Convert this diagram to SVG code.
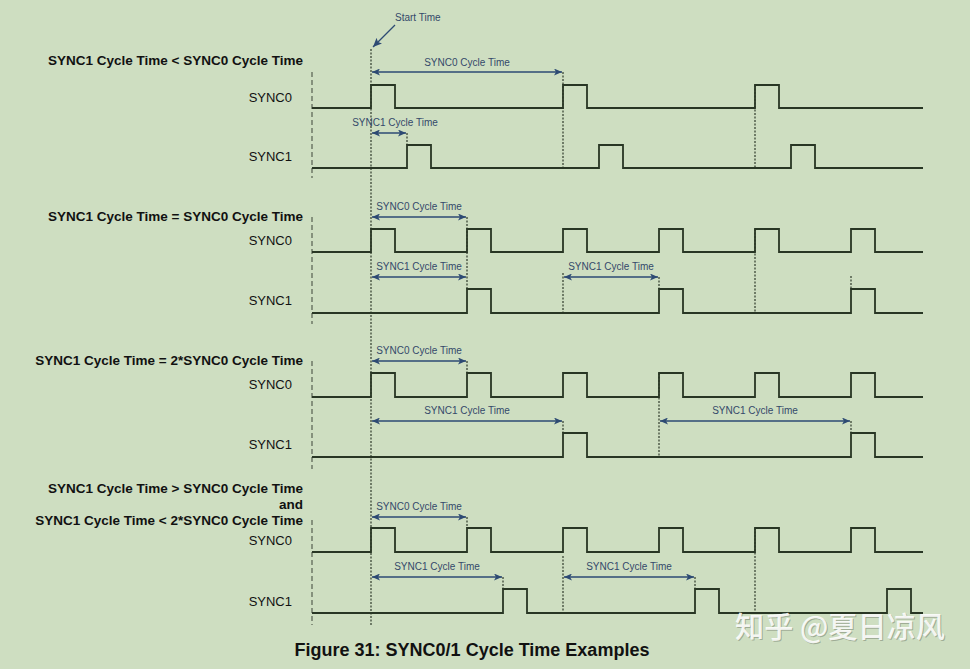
<svg xmlns="http://www.w3.org/2000/svg" width="970" height="669" viewBox="0 0 970 669">
<style>
.bg{fill:#CEDEC1}
.wave{fill:none;stroke:#283624;stroke-width:1.8;stroke-linejoin:miter}
.dot{stroke:#2F3A2C;stroke-width:1.2;stroke-dasharray:2 1.5;fill:none}
.dash{stroke:#4A5346;stroke-width:1.1;stroke-dasharray:5 3;fill:none}
.dim{stroke:#2D4A73;stroke-width:1.3;fill:none;marker-start:url(#ah);marker-end:url(#ah)}
.head{font-family:"Liberation Sans",Arial,sans-serif;font-weight:bold;font-size:13.5px;fill:#111;text-anchor:end}
.sig{font-family:"Liberation Sans",Arial,sans-serif;font-size:13px;fill:#111;text-anchor:end}
.ct{font-family:"Liberation Sans",Arial,sans-serif;font-size:10px;fill:#34496A;text-anchor:middle}
.cap{font-family:"Liberation Sans",Arial,sans-serif;font-weight:bold;font-size:18px;fill:#111;text-anchor:middle}
.wm{font-family:"Noto Sans CJK SC","Liberation Sans",sans-serif;font-size:29px;font-weight:500}
</style>
<defs>
<marker id="ah" markerUnits="userSpaceOnUse" markerWidth="9" markerHeight="7" refX="8" refY="3.5" orient="auto-start-reverse">
<path d="M0,0 L8,3.5 L0,7 L2,3.5 z" fill="#2D4A73"/>
</marker>
<marker id="ah2" markerUnits="userSpaceOnUse" markerWidth="10" markerHeight="8" refX="9" refY="4" orient="auto">
<path d="M0,0 L9,4 L0,8 L2,4 z" fill="#2D4A73"/>
</marker>
</defs>
<rect class="bg" x="0" y="0" width="970" height="669"/>

<g id="start-time">
<text x="395" y="21" style="font-family:'Liberation Sans',Arial,sans-serif;font-size:10px;fill:#34496A">Start Time</text>
<line x1="395" y1="25" x2="373" y2="47" stroke="#2D4A73" stroke-width="1.3" marker-end="url(#ah2)"/>
</g>

<g id="connectors">
<line class="dot" x1="371" y1="49" x2="371" y2="625"/>
<!-- panel 1 -->
<line class="dash" x1="312" y1="72" x2="312" y2="178"/>
<line class="dot" x1="563" y1="72" x2="563" y2="168"/>
<line class="dot" x1="755" y1="85" x2="755" y2="168"/>
<line class="dot" x1="407" y1="133" x2="407" y2="145"/>
<line class="dim" x1="372" y1="72" x2="562" y2="72"/>
<line class="dim" x1="372" y1="133" x2="406" y2="133"/>
<!-- panel 2 -->
<line class="dash" x1="312" y1="217" x2="312" y2="324"/>
<line class="dot" x1="467" y1="217" x2="467" y2="289"/>
<line class="dot" x1="563" y1="273" x2="563" y2="313"/>
<line class="dot" x1="659" y1="277" x2="659" y2="289"/>
<line class="dot" x1="755" y1="229" x2="755" y2="313"/>
<line class="dot" x1="851" y1="276" x2="851" y2="289"/>
<line class="dim" x1="372" y1="217" x2="466" y2="217"/>
<line class="dim" x1="372" y1="277" x2="466" y2="277"/>
<line class="dim" x1="564" y1="277" x2="658" y2="277"/>
<!-- panel 3 -->
<line class="dash" x1="312" y1="361" x2="312" y2="469"/>
<line class="dot" x1="467" y1="361" x2="467" y2="373"/>
<line class="dot" x1="563" y1="421" x2="563" y2="433"/>
<line class="dot" x1="659" y1="373" x2="659" y2="457"/>
<line class="dot" x1="851" y1="421" x2="851" y2="433"/>
<line class="dim" x1="372" y1="361" x2="466" y2="361"/>
<line class="dim" x1="372" y1="421" x2="562" y2="421"/>
<line class="dim" x1="660" y1="421" x2="850" y2="421"/>
<!-- panel 4 -->
<line class="dash" x1="312" y1="520" x2="312" y2="625"/>
<line class="dot" x1="467" y1="517" x2="467" y2="528"/>
<line class="dot" x1="503" y1="577" x2="503" y2="589"/>
<line class="dot" x1="563" y1="556" x2="563" y2="613"/>
<line class="dot" x1="695" y1="577" x2="695" y2="589"/>
<line class="dot" x1="755" y1="528" x2="755" y2="613"/>
<line class="dim" x1="372" y1="517" x2="466" y2="517"/>
<line class="dim" x1="372" y1="577" x2="502" y2="577"/>
<line class="dim" x1="564" y1="577" x2="694" y2="577"/>
</g>

<g id="panel1">
<text class="head" x="303" y="65">SYNC1 Cycle Time &lt; SYNC0 Cycle Time</text>
<text class="sig" x="292" y="102">SYNC0</text>
<text class="sig" x="292" y="161">SYNC1</text>
<path class="wave" d="M312,108 H371 V85 H395 V108 H563 V85 H587 V108 H755 V85 H779 V108 H923"/>
<path class="wave" d="M312,168 H407 V145 H431 V168 H599 V145 H623 V168 H791 V145 H815 V168 H923"/>
<text class="ct" x="467" y="66">SYNC0 Cycle Time</text>
<text class="ct" x="395" y="126">SYNC1 Cycle Time</text>
</g>

<g id="panel2">
<text class="head" x="303" y="221">SYNC1 Cycle Time = SYNC0 Cycle Time</text>
<text class="sig" x="292" y="245">SYNC0</text>
<text class="sig" x="292" y="305">SYNC1</text>
<path class="wave" d="M312,252 H371 V229 H395 V252 H467 V229 H491 V252 H563 V229 H587 V252 H659 V229 H683 V252 H755 V229 H779 V252 H851 V229 H875 V252 H923"/>
<path class="wave" d="M312,313 H467 V289 H491 V313 H659 V289 H683 V313 H851 V289 H875 V313 H923"/>
<text class="ct" x="419" y="210">SYNC0 Cycle Time</text>
<text class="ct" x="419" y="270">SYNC1 Cycle Time</text>
<text class="ct" x="611" y="270">SYNC1 Cycle Time</text>
</g>

<g id="panel3">
<text class="head" x="303" y="365">SYNC1 Cycle Time = 2*SYNC0 Cycle Time</text>
<text class="sig" x="292" y="389">SYNC0</text>
<text class="sig" x="292" y="449">SYNC1</text>
<path class="wave" d="M312,397 H371 V373 H395 V397 H467 V373 H491 V397 H563 V373 H587 V397 H659 V373 H683 V397 H755 V373 H779 V397 H851 V373 H875 V397 H923"/>
<path class="wave" d="M312,457 H563 V433 H587 V457 H851 V433 H875 V457 H923"/>
<text class="ct" x="419" y="354">SYNC0 Cycle Time</text>
<text class="ct" x="467" y="414">SYNC1 Cycle Time</text>
<text class="ct" x="755" y="414">SYNC1 Cycle Time</text>
</g>

<g id="panel4">
<text class="head" x="303" y="493">SYNC1 Cycle Time &gt; SYNC0 Cycle Time</text>
<text class="head" x="303" y="509">and</text>
<text class="head" x="303" y="525">SYNC1 Cycle Time &lt; 2*SYNC0 Cycle Time</text>
<text class="sig" x="292" y="545">SYNC0</text>
<text class="sig" x="292" y="606">SYNC1</text>
<path class="wave" d="M312,552 H371 V528 H395 V552 H467 V528 H491 V552 H563 V528 H587 V552 H659 V528 H683 V552 H755 V528 H779 V552 H851 V528 H875 V552 H923"/>
<path class="wave" d="M312,613 H503 V589 H527 V613 H695 V589 H719 V613 H887 V589 H911 V613 H923"/>
<text class="ct" x="419" y="510">SYNC0 Cycle Time</text>
<text class="ct" x="437" y="570">SYNC1 Cycle Time</text>
<text class="ct" x="629" y="570">SYNC1 Cycle Time</text>
</g>

<g id="caption">
<text class="cap" x="472" y="656">Figure 31: SYNC0/1 Cycle Time Examples</text>
</g>
<g id="watermark">
<text class="wm" x="736" y="639" fill="#7F8C78" fill-opacity="0.6" textLength="210" lengthAdjust="spacingAndGlyphs">知乎 @夏日凉风</text>
<text class="wm" x="735" y="638" fill="#FFFFFF" fill-opacity="0.9" textLength="210" lengthAdjust="spacingAndGlyphs">知乎 @夏日凉风</text>
</g>
</svg>
